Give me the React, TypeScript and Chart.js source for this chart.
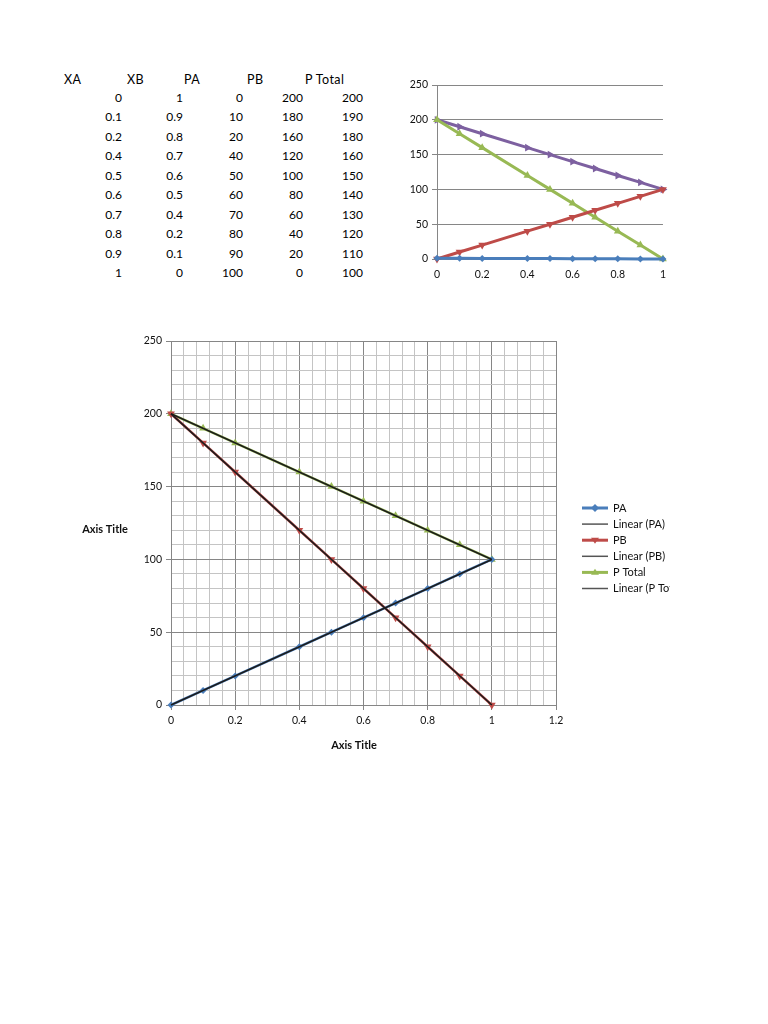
import React, { useEffect, useRef } from "react";
import { Chart, registerables } from "chart.js";

Chart.register(...registerables);
Chart.defaults.font.family = "Lato, 'Open Sans', sans-serif";

// Vapour-pressure table (Raoult's law)
const XA = [0, 0.1, 0.2, 0.4, 0.5, 0.6, 0.7, 0.8, 0.9, 1];
const XB = [1, 0.9, 0.8, 0.7, 0.6, 0.5, 0.4, 0.2, 0.1, 0];
const PA = [0, 10, 20, 40, 50, 60, 70, 80, 90, 100];
const PB = [200, 180, 160, 120, 100, 80, 60, 40, 20, 0];
const PTOTAL = [200, 190, 180, 160, 150, 140, 130, 120, 110, 100];
const HEADERS = ["XA", "XB", "PA", "PB", "P Total"];

const LEGEND_LABELS = ["PA", "Linear (PA)", "PB", "Linear (PB)", "P Total", "Linear (P Total)"];
const AXIS_TITLE = "Axis Title";

const BLUE = "#4A7EBB";
const RED = "#BE4B48";
const GREEN = "#98B954";
const PURPLE = "#7D60A0";
const TREND = "#1c1c1c";
const GRID_MAJOR = "#868686";
const GRID_MINOR = "#c4c4c4";
const TEXT = "#111";

const pts = (ys: number[]) => XA.map((x, i) => ({ x, y: ys[i] }));

// least-squares straight line over the XA range
function linearFit(ys: number[]) {
  const n = XA.length;
  const mx = XA.reduce((a, b) => a + b, 0) / n;
  const my = ys.reduce((a, b) => a + b, 0) / n;
  let sxy = 0;
  let sxx = 0;
  for (let i = 0; i < n; i++) {
    sxy += (XA[i] - mx) * (ys[i] - my);
    sxx += (XA[i] - mx) * (XA[i] - mx);
  }
  const slope = sxy / sxx;
  const icpt = my - slope * mx;
  const x0 = Math.min(...XA);
  const x1 = Math.max(...XA);
  return [
    { x: x0, y: icpt + slope * x0 },
    { x: x1, y: icpt + slope * x1 },
  ];
}

const isMult = (v: number, step: number) => Math.abs(v / step - Math.round(v / step)) < 1e-6;

function drawMarker(ctx: CanvasRenderingContext2D, kind: string, cx: number, cy: number, r: number, color: string) {
  ctx.fillStyle = color;
  ctx.beginPath();
  if (kind === "diamond") {
    ctx.moveTo(cx, cy - r);
    ctx.lineTo(cx + r, cy);
    ctx.lineTo(cx, cy + r);
    ctx.lineTo(cx - r, cy);
  } else if (kind === "down") {
    ctx.moveTo(cx - r, cy - r * 0.6);
    ctx.lineTo(cx + r, cy - r * 0.6);
    ctx.lineTo(cx, cy + r * 0.9);
  } else {
    ctx.moveTo(cx - r, cy + r * 0.6);
    ctx.lineTo(cx + r, cy + r * 0.6);
    ctx.lineTo(cx, cy - r * 0.9);
  }
  ctx.closePath();
  ctx.fill();
}

const bigOverlay = {
  id: "bigOverlay",
  afterDraw(chart: any) {
    const ctx: CanvasRenderingContext2D = chart.ctx;
    ctx.save();
    ctx.fillStyle = TEXT;
    ctx.font = "bold 11px Lato, sans-serif";
    ctx.textAlign = "center";
    ctx.textBaseline = "middle";
    ctx.fillText(AXIS_TITLE, 279, 420);
    ctx.fillText(AXIS_TITLE, 30, 204);

    const kinds = [
      { color: BLUE, marker: "diamond", w: 3 },
      { color: "#555", marker: "", w: 1.5 },
      { color: RED, marker: "down", w: 3 },
      { color: "#555", marker: "", w: 1.5 },
      { color: GREEN, marker: "up", w: 3 },
      { color: "#555", marker: "", w: 1.5 },
    ];
    ctx.font = "11px Lato, sans-serif";
    ctx.textAlign = "left";
    LEGEND_LABELS.forEach((label, i) => {
      const y = 183 + i * 16.1;
      const k = kinds[i];
      ctx.strokeStyle = k.color;
      ctx.lineWidth = k.w;
      ctx.beginPath();
      ctx.moveTo(507, y);
      ctx.lineTo(533, y);
      ctx.stroke();
      if (k.marker) drawMarker(ctx, k.marker, 520, y, 4, k.color);
      ctx.fillStyle = TEXT;
      ctx.fillText(label, 538, y);
    });
    ctx.restore();
  },
};

function BigChart() {
  const ref = useRef<HTMLCanvasElement>(null);
  useEffect(() => {
    const series = (label: string, ys: number[], color: string, style: string, rot: number, r: number) => ({
      label,
      data: pts(ys),
      showLine: true,
      borderColor: color,
      backgroundColor: color,
      borderWidth: 2.5,
      pointStyle: style,
      rotation: rot,
      pointRadius: r,
      pointBackgroundColor: color,
      pointBorderColor: color,
      pointBorderWidth: 0,
      clip: false,
      order: 1,
    });
    const trend = (label: string, ys: number[]) => ({
      label,
      data: linearFit(ys),
      showLine: true,
      borderColor: TREND,
      borderWidth: 1.6,
      pointRadius: 0,
      clip: false,
      order: 0,
    });
    const chart = new Chart(ref.current!, {
      type: "scatter",
      data: {
        datasets: [
          series("PA", PA, BLUE, "rectRot", 0, 3.5),
          trend("Linear (PA)", PA),
          series("PB", PB, RED, "triangle", 180, 4.5),
          trend("Linear (PB)", PB),
          series("P Total", PTOTAL, GREEN, "triangle", 0, 4.5),
          trend("Linear (P Total)", PTOTAL),
        ] as any,
      },
      options: {
        responsive: false,
        animation: false,
        layout: { padding: { left: 46, top: 16, right: 114, bottom: 0 } },
        plugins: { legend: { display: false }, tooltip: { enabled: false } },
        scales: {
          x: {
            type: "linear",
            min: 0,
            max: 1.2,
            afterFit: (s: any) => {
              s.height = 60;
            },
            ticks: {
              stepSize: 0.04,
              autoSkip: false,
              maxRotation: 0,
              padding: 4,
              color: TEXT,
              font: { size: 10.5 },
              callback: (v: any) => (isMult(Number(v), 0.2) ? String(Math.round(Number(v) * 10) / 10) : ""),
            },
            grid: {
              color: (c: any) => (isMult(c.tick.value, 0.2) ? GRID_MAJOR : GRID_MINOR),
              tickColor: (c: any) => (isMult(c.tick.value, 0.2) ? GRID_MAJOR : "rgba(0,0,0,0)"),
              tickLength: 5,
              lineWidth: 1,
            },
            border: { color: GRID_MAJOR },
          },
          y: {
            type: "linear",
            min: 0,
            max: 250,
            afterFit: (s: any) => {
              s.width = 50;
            },
            ticks: {
              stepSize: 10,
              autoSkip: false,
              padding: 4,
              color: TEXT,
              font: { size: 10.5 },
              callback: (v: any) => (isMult(Number(v), 50) ? String(v) : ""),
            },
            grid: {
              color: (c: any) => (isMult(c.tick.value, 50) ? GRID_MAJOR : GRID_MINOR),
              tickColor: (c: any) => (isMult(c.tick.value, 50) ? GRID_MAJOR : "rgba(0,0,0,0)"),
              tickLength: 5,
              lineWidth: 1,
            },
            border: { color: GRID_MAJOR },
          },
        },
      } as any,
      plugins: [bigOverlay],
    });
    return () => chart.destroy();
  }, []);
  return <canvas ref={ref} width={595} height={440} style={{ position: "absolute", left: 75, top: 325 }} />;
}

function SmallChart() {
  const ref = useRef<HTMLCanvasElement>(null);
  useEffect(() => {
    const series = (label: string, ys: number[], color: string, style: string, rot: number, r: number) => ({
      label,
      data: pts(ys),
      showLine: true,
      borderColor: color,
      backgroundColor: color,
      borderWidth: 3,
      pointStyle: style,
      rotation: rot,
      pointRadius: r,
      pointBackgroundColor: color,
      pointBorderColor: color,
      pointBorderWidth: 0,
      clip: false,
    });
    const chart = new Chart(ref.current!, {
      type: "scatter",
      data: {
        datasets: [
          series("XB", XB, BLUE, "rectRot", 0, 3.5),
          series("PA", PA, RED, "triangle", 180, 4.5),
          series("PB", PB, GREEN, "triangle", 0, 4.5),
          series("P Total", PTOTAL, PURPLE, "triangle", 90, 4.5),
        ] as any,
      },
      options: {
        responsive: false,
        animation: false,
        layout: { padding: { left: 12, top: 13, right: 11, bottom: 0 } },
        plugins: { legend: { display: false }, tooltip: { enabled: false } },
        scales: {
          x: {
            type: "linear",
            min: 0,
            max: 1,
            afterFit: (s: any) => {
              s.height = 28;
            },
            ticks: {
              stepSize: 0.2,
              maxRotation: 0,
              autoSkip: false,
              padding: 9,
              color: TEXT,
              font: { size: 10.5 },
              callback: (v: any) => String(Math.round(Number(v) * 10) / 10),
            },
            grid: { display: false, drawTicks: false },
            border: { display: false },
          },
          y: {
            type: "linear",
            min: 0,
            max: 250,
            afterFit: (s: any) => {
              s.width = 40;
            },
            ticks: { stepSize: 50, padding: 4, color: TEXT, font: { size: 10.5 } },
            grid: { color: GRID_MAJOR, tickColor: GRID_MAJOR, tickLength: 5, lineWidth: 1 },
            border: { color: GRID_MAJOR },
          },
        },
      } as any,
    });
    return () => chart.destroy();
  }, []);
  return <canvas ref={ref} width={290} height={215} style={{ position: "absolute", left: 385, top: 72 }} />;
}

const COLUMNS = [XA, XB, PA, PB, PTOTAL];
const COL_RIGHT = [122, 183, 243, 303, 363];
const HEAD_LEFT = [64, 127, 184, 247, 305];

function DataTable() {
  const font: React.CSSProperties = {
    position: "absolute",
    fontFamily: "Lato, sans-serif",
    fontSize: 12,
    lineHeight: "16px",
    height: 16,
    color: "#000",
    whiteSpace: "nowrap",
  };
  return (
    <>
      {HEADERS.map((h, i) => (
        <div key={h} style={{ ...font, fontSize: 12.5, letterSpacing: 0.4, left: HEAD_LEFT[i], top: 72 }}>
          {h}
        </div>
      ))}
      {COLUMNS.map((col, c) =>
        col.map((v, r) => (
          <div
            key={`${c}-${r}`}
            style={{ ...font, left: COL_RIGHT[c] - 50, width: 50, textAlign: "right", top: 98 + r * 19.44 - 8 }}
          >
            {String(v)}
          </div>
        ))
      )}
    </>
  );
}

export default function App() {
  return (
    <div
      style={{
        position: "absolute",
        left: 0,
        top: 0,
        width: 768,
        height: 1024,
        background: "#fff",
        overflow: "hidden",
      }}
    >
      <DataTable />
      <SmallChart />
      <BigChart />
    </div>
  );
}
